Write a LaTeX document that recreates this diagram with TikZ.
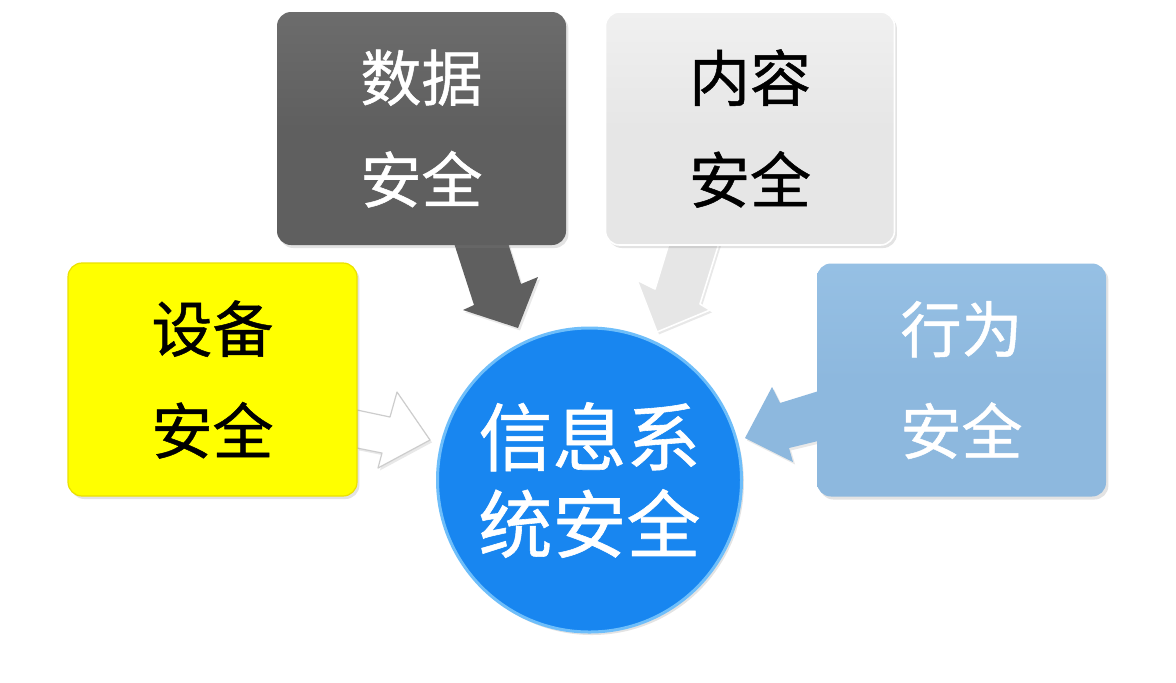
\documentclass[tikz,border=0pt]{standalone}
\usepackage{fontspec}
\setmainfont{Noto Sans CJK SC}[FakeBold=0.8]
\usetikzlibrary{shadows}
\definecolor{cyellow}{RGB}{255,255,0}
\definecolor{cyellowedge}{RGB}{235,225,0}
\definecolor{cdark}{RGB}{95,95,95}
\definecolor{cdarktop}{RGB}{108,108,108}
\definecolor{clight}{RGB}{230,230,230}
\definecolor{clighttop}{RGB}{240,240,240}
\definecolor{cblue}{RGB}{141,184,222}
\definecolor{cbluetop}{RGB}{150,192,228}
\definecolor{ccircle}{RGB}{24,134,240}
\definecolor{crim}{RGB}{110,190,250}
\definecolor{carrowline}{RGB}{205,205,205}
\tikzset{
  box/.style={rounded corners=7pt, minimum width=144.5pt, minimum height=116.5pt,
    inner sep=0pt, align=center, font=\fontsize{30.5}{51}\selectfont,
    drop shadow={opacity=0.22, shadow xshift=1.2pt, shadow yshift=-1.5pt}},
  hub/.style={circle, minimum size=152pt, inner sep=0pt, align=center,
    fill=ccircle, draw=crim, line width=1.5pt, text=white,
    font=\fontsize{37}{43.5}\selectfont,
    drop shadow={opacity=0.22, shadow xshift=1.2pt, shadow yshift=-1.5pt}},
  blockarrow/.style={line join=round,
    drop shadow={opacity=0.18, shadow xshift=1pt, shadow yshift=-1.2pt}}
}
\begin{document}
\begin{tikzpicture}[x=0.5pt,y=-0.5pt]
\useasboundingbox[fill=white] (0,0) rectangle (1176,682);

% block arrows
\filldraw[blockarrow, fill=white, draw=carrowline, line width=0.6pt]
  (357,410) -- (390,417) -- (397,392) -- (430,440) -- (378,468) -- (382,453) -- (357,448) -- cycle;
\fill[blockarrow, fill=cdark]
  (453,240) -- (474,305) -- (463,310) -- (518,328) -- (538,277) -- (521,284) -- (507,240) -- cycle;
\filldraw[blockarrow, fill=clight, draw=white, line width=0.8pt]
  (670,240) -- (655,289) -- (637,280) -- (657,332) -- (710,310) -- (700,304) -- (720,240) -- cycle;
\fill[blockarrow, fill=cblue]
  (822,390) -- (780,403) -- (772,387) -- (745,438) -- (793,462) -- (789,448) -- (822,440) -- cycle;

% boxes
\node[box, top color=cyellow, bottom color=cyellow, draw=cyellowedge, line width=0.6pt] (device) at (212.5,379.5) {设备\\安全};
\node[box, top color=cdarktop, bottom color=cdark, middle color=cdark, text=white] (data) at (421.5,128.5) {数据\\安全};
\node[box, top color=clighttop, bottom color=clight, middle color=clight, draw=white, line width=0.8pt] (content) at (750,128.5) {内容\\安全};
\node[box, top color=cbluetop, bottom color=cblue, middle color=cblue, text=white] (behav) at (961.5,380) {行为\\安全};

% hub
\node[hub] (hub) at (589.5,480) {信息系\\统安全};
\end{tikzpicture}
\end{document}
